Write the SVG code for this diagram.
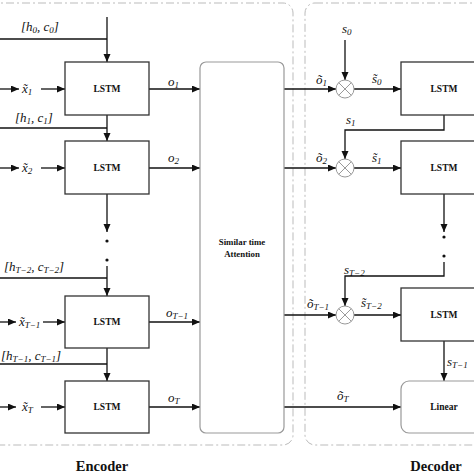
<svg xmlns="http://www.w3.org/2000/svg" width="474" height="474" viewBox="0 0 474 474">
<defs>
<marker id="ah" markerUnits="userSpaceOnUse" markerWidth="9" markerHeight="8" refX="8" refY="3.5" orient="auto">
<path d="M0,0 L8,3.5 L0,7 z" fill="#111"/>
</marker>
<style>
.box{fill:#fff;stroke:#333;stroke-width:1.3}
.rbox{fill:#fff;stroke:#999;stroke-width:1.2}
.cont{fill:none;stroke:#bbb;stroke-width:1;stroke-dasharray:8 3 2 3}
.ln{fill:none;stroke:#111;stroke-width:1.3}
.arr{fill:none;stroke:#111;stroke-width:1.3;marker-end:url(#ah)}
.bl{font-family:"Liberation Serif",serif;font-weight:bold;font-size:9.5px;fill:#111;text-anchor:middle}
.sm{font-family:"Liberation Serif",serif;font-weight:bold;font-size:8.8px;fill:#111;text-anchor:middle}
.tt{font-family:"Liberation Serif",serif;font-weight:bold;font-size:14.5px;fill:#111;text-anchor:middle}
.m{font-family:"Liberation Serif",serif;font-style:italic;font-size:13px;fill:#111}
.sub{font-size:9px}
.dot{fill:#111}
.mul{fill:#fff;stroke:#999;stroke-width:1}
</style>
</defs>
<rect width="474" height="474" fill="#fff"/>
<g id="containers">
<rect class="cont" x="-20" y="3" width="313" height="442" rx="10"/>
<rect class="cont" x="305" y="3" width="200" height="442" rx="10"/>
</g>
<g id="connectors">
<polyline class="ln" points="0,39 107,39"/>
<line class="arr" x1="107" y1="17" x2="107" y2="62"/>
<line class="arr" x1="0" y1="89" x2="19" y2="89"/>
<line class="arr" x1="41" y1="89" x2="65" y2="89"/>
<line class="arr" x1="149" y1="89" x2="200" y2="89"/>
<line class="ln" x1="0" y1="128" x2="107" y2="128"/>
<line class="arr" x1="107" y1="115" x2="107" y2="141"/>
<line class="arr" x1="0" y1="168" x2="19" y2="168"/>
<line class="arr" x1="41" y1="168" x2="65" y2="168"/>
<line class="arr" x1="149" y1="168" x2="200" y2="168"/>
<line class="arr" x1="107" y1="194" x2="107" y2="232"/>
<line class="ln" x1="0" y1="278" x2="107" y2="278"/>
<line class="arr" x1="107" y1="266" x2="107" y2="296"/>
<line class="arr" x1="0" y1="322" x2="16" y2="322"/>
<line class="arr" x1="43" y1="322" x2="65" y2="322"/>
<line class="arr" x1="149" y1="322" x2="200" y2="322"/>
<line class="ln" x1="0" y1="364" x2="107" y2="364"/>
<line class="arr" x1="107" y1="348" x2="107" y2="381"/>
<line class="arr" x1="0" y1="407" x2="16" y2="407"/>
<line class="arr" x1="41" y1="407" x2="65" y2="407"/>
<line class="arr" x1="149" y1="407" x2="200" y2="407"/>
<line class="arr" x1="345" y1="40" x2="345" y2="80"/>
<line class="arr" x1="284" y1="89" x2="336" y2="89"/>
<line class="arr" x1="354" y1="89" x2="401" y2="89"/>
<polyline class="arr" points="444,115 444,130 345,130 345,159"/>
<line class="arr" x1="284" y1="168" x2="336" y2="168"/>
<line class="arr" x1="354" y1="168" x2="401" y2="168"/>
<line class="arr" x1="444" y1="194" x2="444" y2="232"/>
<polyline class="arr" points="444,262 444,276 345,276 345,306"/>
<line class="arr" x1="284" y1="315" x2="336" y2="315"/>
<line class="arr" x1="354" y1="315" x2="401" y2="315"/>
<line class="arr" x1="444" y1="341" x2="444" y2="381"/>
<line class="arr" x1="284" y1="407" x2="401" y2="407"/>
</g>
<g id="dots">
<circle class="dot" cx="107" cy="241" r="1.6"/>
<circle class="dot" cx="107" cy="260" r="1.6"/>
<circle class="dot" cx="444" cy="237" r="1.6"/>
<circle class="dot" cx="444" cy="256" r="1.6"/>
</g>
<g id="enc-lstm1"><rect class="box" x="65" y="62" width="84" height="53"/><text class="bl" x="107" y="92">LSTM</text></g>
<g id="enc-lstm2"><rect class="box" x="65" y="141" width="84" height="53"/><text class="bl" x="107" y="171">LSTM</text></g>
<g id="enc-lstm3"><rect class="box" x="65" y="296" width="84" height="52"/><text class="bl" x="107" y="325">LSTM</text></g>
<g id="enc-lstm4"><rect class="box" x="65" y="381" width="84" height="52"/><text class="bl" x="107" y="410">LSTM</text></g>
<g id="attention"><rect class="rbox" x="200" y="62" width="84" height="371" rx="6"/><text class="sm" x="242" y="245">Similar time</text><text class="sm" x="242" y="257">Attention</text></g>
<g id="dec-lstm1"><rect class="box" x="401" y="62" width="90" height="53"/><text class="bl" x="444" y="92">LSTM</text></g>
<g id="dec-lstm2"><rect class="box" x="401" y="141" width="90" height="53"/><text class="bl" x="444" y="171">LSTM</text></g>
<g id="dec-lstm3"><rect class="box" x="401" y="288" width="90" height="53"/><text class="bl" x="444" y="318">LSTM</text></g>
<g id="linear"><rect class="rbox" x="401" y="381" width="90" height="52" rx="8"/><text class="bl" x="444" y="410">Linear</text></g>
<g id="mul1"><circle class="mul" cx="345" cy="89" r="9"/><path class="mul" d="M338.6,82.6 L351.4,95.4 M351.4,82.6 L338.6,95.4"/></g>
<g id="mul2"><circle class="mul" cx="345" cy="168" r="9"/><path class="mul" d="M338.6,161.6 L351.4,174.4 M351.4,161.6 L338.6,174.4"/></g>
<g id="mul3"><circle class="mul" cx="345" cy="315" r="9"/><path class="mul" d="M338.6,308.6 L351.4,321.4 M351.4,308.6 L338.6,321.4"/></g>
<g id="labels">
<text class="m" x="21" y="31">[h<tspan class="sub" dy="2">0</tspan><tspan dy="-2">, c</tspan><tspan class="sub" dy="2">0</tspan><tspan dy="-2">]</tspan></text>
<text class="m" x="22" y="93">x̃<tspan class="sub" dy="2">1</tspan></text>
<text class="m" x="168" y="86">o<tspan class="sub" dy="2">1</tspan></text>
<text class="m" x="15" y="122">[h<tspan class="sub" dy="2">1</tspan><tspan dy="-2">, c</tspan><tspan class="sub" dy="2">1</tspan><tspan dy="-2">]</tspan></text>
<text class="m" x="22" y="172">x̃<tspan class="sub" dy="2">2</tspan></text>
<text class="m" x="168" y="162">o<tspan class="sub" dy="2">2</tspan></text>
<text class="m" x="4" y="271">[h<tspan class="sub" dy="2">T−2</tspan><tspan dy="-2">, c</tspan><tspan class="sub" dy="2">T−2</tspan><tspan dy="-2">]</tspan></text>
<text class="m" x="19" y="326">x̃<tspan class="sub" dy="2">T−1</tspan></text>
<text class="m" x="166" y="317">o<tspan class="sub" dy="2">T−1</tspan></text>
<text class="m" x="1" y="360">[h<tspan class="sub" dy="2">T−1</tspan><tspan dy="-2">, c</tspan><tspan class="sub" dy="2">T−1</tspan><tspan dy="-2">]</tspan></text>
<text class="m" x="22" y="411">x̃<tspan class="sub" dy="2">T</tspan></text>
<text class="m" x="168" y="402">o<tspan class="sub" dy="2">T</tspan></text>
<text class="m" x="342" y="33">s<tspan class="sub" dy="2">0</tspan></text>
<text class="m" x="316" y="84">õ<tspan class="sub" dy="2">1</tspan></text>
<text class="m" x="372" y="83">s̃<tspan class="sub" dy="2">0</tspan></text>
<text class="m" x="346" y="124">s<tspan class="sub" dy="2">1</tspan></text>
<text class="m" x="316" y="162">õ<tspan class="sub" dy="2">2</tspan></text>
<text class="m" x="372" y="162">s̃<tspan class="sub" dy="2">1</tspan></text>
<text class="m" x="344" y="274">s<tspan class="sub" dy="2">T−2</tspan></text>
<text class="m" x="307" y="308">õ<tspan class="sub" dy="2">T−1</tspan></text>
<text class="m" x="361" y="307">s̃<tspan class="sub" dy="2">T−2</tspan></text>
<text class="m" x="447" y="366">s<tspan class="sub" dy="2">T−1</tspan></text>
<text class="m" x="337" y="400">õ<tspan class="sub" dy="2">T</tspan></text>
</g>
<g id="titles">
<text class="tt" x="102" y="471">Encoder</text>
<text class="tt" x="436" y="471">Decoder</text>
</g>
</svg>
